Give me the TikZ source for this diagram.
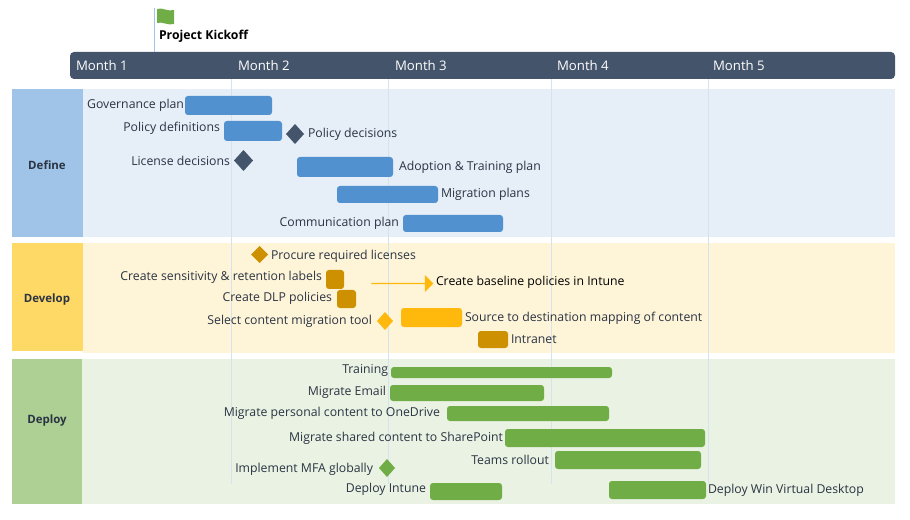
\documentclass[tikz,border=0pt]{standalone}
\usepackage{fontspec}
\setmainfont{Open Sans}
\usepackage{xcolor}
\usetikzlibrary{positioning,shapes.geometric,shapes.arrows}
\definecolor{monthbar}{HTML}{44546A}
\definecolor{inktext}{HTML}{2B3443}
\definecolor{defineband}{HTML}{E6EEF8}
\definecolor{definehead}{HTML}{9FC4E8}
\definecolor{definebar}{HTML}{5191CF}
\definecolor{developband}{HTML}{FEF4D8}
\definecolor{develophead}{HTML}{FFD966}
\definecolor{developdark}{HTML}{CC9000}
\definecolor{developbar}{HTML}{FFB90C}
\definecolor{deployband}{HTML}{EAF2E3}
\definecolor{deployhead}{HTML}{AED094}
\definecolor{deploybar}{HTML}{70AD47}
\definecolor{gridline}{HTML}{D5E3EE}
\tikzset{
  sized/.style 2 args={minimum width=#1*0.75pt,minimum height=#2*0.75pt,inner sep=0pt,outer sep=0pt},
  band/.style={fill=#1,draw=none,rectangle},
  head/.style={fill=#1,draw=none,rectangle,font=\fontsize{8.6}{10}\selectfont\bfseries,text=inktext},
  bar/.style={fill=#1,draw=none,rectangle,rounded corners=2.2pt},
  mile/.style={fill=#1,draw=none,diamond,aspect=1,inner sep=0pt,outer sep=0pt},
  lab/.style={font=\fontsize{9.2}{11}\selectfont,text=inktext,inner sep=0pt,outer sep=0pt},
  labr/.style={lab,anchor=east},
  labl/.style={lab,anchor=west},
  monthlab/.style={lab,anchor=west,text=white,font=\fontsize{9.9}{12}\selectfont},
}
\begin{document}
\begin{tikzpicture}[x=0.75pt,y=-0.75pt]
\useasboundingbox (0,0) rectangle (910,520);
\node[band=defineband,sized={812}{148}] (defineband) at (489,163) {};
\node[head=definehead,sized={71}{148}] (define) at (47.5,163) {};
\node[band=developband,sized={812}{110}] (developband) at (489,298) {};
\node[head=develophead,sized={71}{108}] (develop) at (47.5,297) {};
\node[band=deployband,sized={813}{145}] (deployband) at (488.5,431.5) {};
\node[head=deployhead,sized={70}{145}] (deploy) at (47,431.5) {};
\node[head=definehead,fill=none] (defineL) at (47,165) {Define};
\node[head=develophead,fill=none] (developL) at (47,300) {Develop};
\node[head=deployhead,fill=none] (deployL) at (47,421) {Deploy};
\foreach \x in {231,388.5,551,708}
  \draw[gridline,line width=0.6pt] (\x,79) -- (\x,484);
\node[fill=monthbar,rectangle,rounded corners=3pt,sized={825}{27}] (months) at (482.5,65.5) {};
\node[monthlab] (m1) at (76,65.5) {Month 1};
\node[monthlab] (m2) at (238,65.5) {Month 2};
\node[monthlab] (m3) at (395,65.5) {Month 3};
\node[monthlab] (m4) at (557,65.5) {Month 4};
\node[monthlab] (m5) at (713,65.5) {Month 5};
\coordinate (kicktop) at (154.5,8);
\coordinate (kickfoot) at (154.5,52);
\draw[definehead,line width=0.75pt] (kicktop) -- (kickfoot);
\fill[deploybar] (157,9) .. controls (162,7) and (168,12) .. (174,10) -- (174,24) .. controls (168,26) and (162,21) .. (157,23) -- cycle;
\node[labl,font=\fontsize{9.2}{11}\selectfont\bfseries,text=black] (kickoff) at (159,36) {Project Kickoff};
\node[bar=definebar,sized={87}{19}] (gov) at (228.5,105.5) {};
\node[bar=definebar,sized={58}{20}] (poldef) at (253,131) {};
\node[mile=monthbar,sized={18}{20}] (poldec) at (295,134) {};
\node[mile=monthbar,sized={19}{21}] (licdec) at (243.5,160.5) {};
\node[bar=definebar,sized={96}{20}] (adopt) at (345,167) {};
\node[bar=definebar,sized={101}{17}] (migr) at (387.5,194.5) {};
\node[bar=definebar,sized={100}{17}] (comm) at (453,223.5) {};
\node[labr] (govL) at (184,105) {Governance plan};
\node[labr] (poldefL) at (220,128) {Policy definitions};
\node[labl] (poldecL) at (308,134) {Policy decisions};
\node[labr] (licdecL) at (230,161) {License decisions};
\node[labl] (adoptL) at (399,167) {Adoption \& Training plan};
\node[labl] (migrL) at (441,194) {Migration plans};
\node[labr] (commL) at (399,223) {Communication plan};
\node[mile=developdark,sized={17}{17}] (procure) at (259.5,254.5) {};
\node[bar=developdark,sized={18}{19}] (sens) at (335,279.5) {};
\node[bar=developdark,sized={19}{18}] (dlp) at (346.5,299) {};
\node[mile=developbar,sized={16}{18}] (select) at (385,321) {};
\node[single arrow,fill=developbar,draw=none,inner sep=0pt,outer sep=0pt,minimum width=17*0.75pt,minimum height=62*0.75pt,single arrow head extend=2.25pt,single arrow head indent=0pt] (baseline) at (402,283.5) {};
\node[bar=developbar,sized={61}{19}] (source) at (431.5,317.5) {};
\node[bar=developdark,sized={30}{17}] (intranet) at (493,339.5) {};
\node[labl] (procureL) at (271,256) {Procure required licenses};
\node[labr] (sensL) at (322,277) {Create sensitivity \& retention labels};
\node[labr] (dlpL) at (332,298) {Create DLP policies};
\node[labr] (selectL) at (372,321) {Select content migration tool};
\node[labl,text=black] (baselineL) at (436,282) {Create baseline policies in Intune};
\node[labl] (sourceL) at (465,318) {Source to destination mapping of content};
\node[labl] (intranetL) at (511,339) {Intranet};
\node[bar=deploybar,sized={221}{11}] (train) at (501.5,372.5) {};
\node[bar=deploybar,sized={154}{16}] (email) at (467,393) {};
\node[bar=deploybar,sized={162}{15}] (onedrive) at (528,413.5) {};
\node[bar=deploybar,sized={200}{18}] (share) at (605,438) {};
\node[bar=deploybar,sized={146}{18}] (teams) at (628,460) {};
\node[mile=deploybar,sized={16}{18}] (mfa) at (387,468) {};
\node[bar=deploybar,sized={72}{17}] (intune) at (466,491.5) {};
\node[bar=deploybar,sized={97}{18}] (wvd) at (657.5,490) {};
\node[labr] (trainL) at (388,370) {Training};
\node[labr] (emailL) at (386,392) {Migrate Email};
\node[labr] (onedriveL) at (440,413) {Migrate personal content to OneDrive};
\node[labr] (shareL) at (503,438) {Migrate shared content to SharePoint};
\node[labr] (teamsL) at (549,460) {Teams rollout};
\node[labr] (mfaL) at (373,469) {Implement MFA globally};
\node[labr] (intuneL) at (426,489) {Deploy Intune};
\node[labl] (wvdL) at (708,490) {Deploy Win Virtual Desktop};
\end{tikzpicture}
\end{document}
